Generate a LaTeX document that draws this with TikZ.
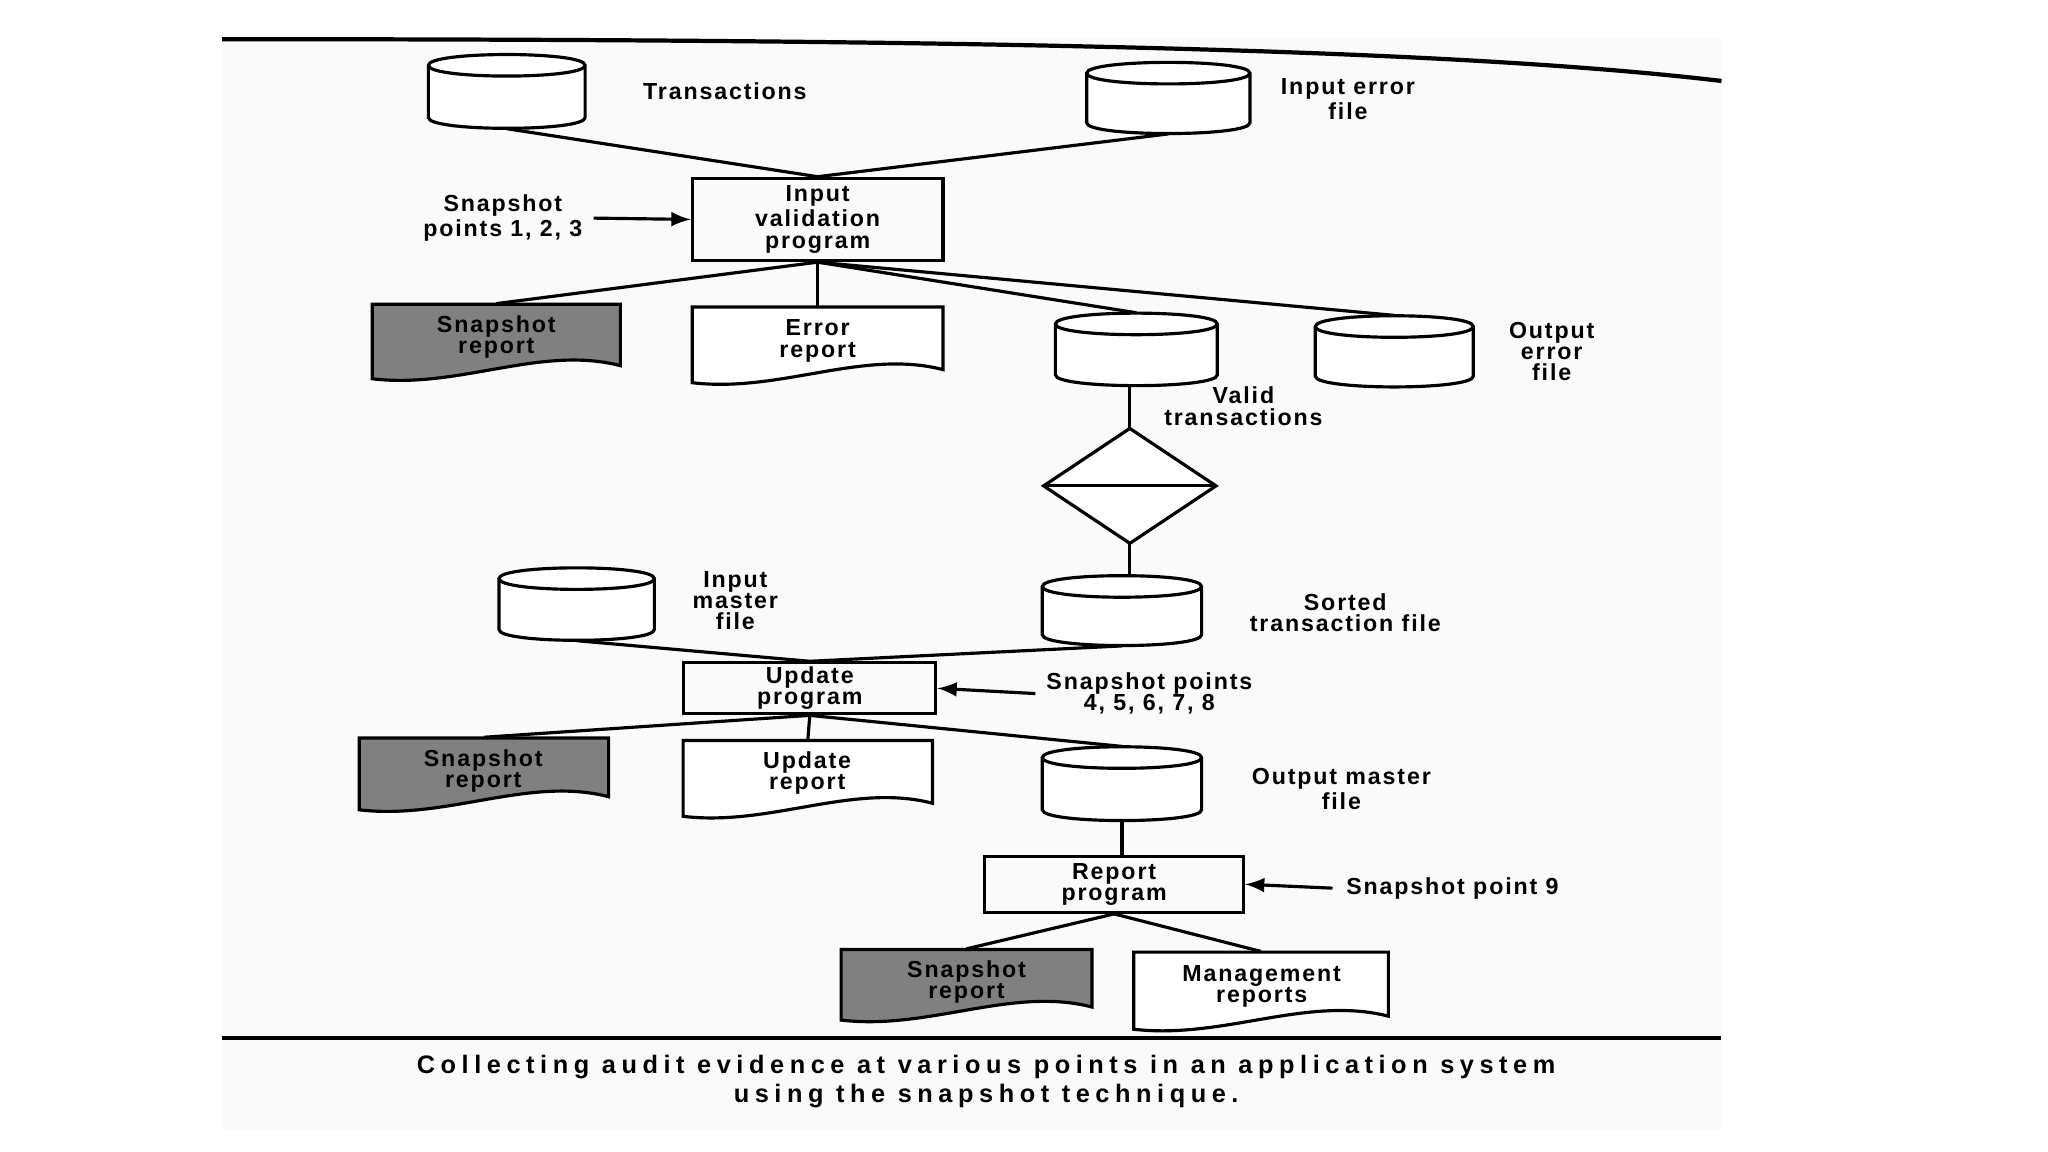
\documentclass[tikz,border=0pt]{standalone}
\usepackage{fontspec}
\setmainfont{Liberation Sans}[LetterSpace=8]
\newfontfamily\capfont{Liberation Sans}[LetterSpace=22]
\begin{document}
\begin{tikzpicture}[x=0.01306cm,y=-0.01306cm,
  lbl/.style={font=\bfseries\fontsize{6.6}{6}\selectfont,align=center,inner sep=0},
  ln/.style={line width=0.9pt},
  ph/.style={inner sep=0,draw=none}]
\useasboundingbox (0,0) rectangle (1568,882);
% page
\fill[black!2] (170,30) rectangle (1318,865);
\draw[line width=1.2pt] (170,30) .. controls (700,30) and (1100,36) .. (1318,62);
\draw[line width=1.2pt] (170,795) -- (1318,795);
% macros
\newcommand\mycyl[5]{% name x1 y1 x2 y2
  \pgfmathsetmacro\ct{#3+8}\pgfmathsetmacro\cb{#5-8}
  \pgfmathsetmacro\up{\ct-11}\pgfmathsetmacro\dn{\ct+11}\pgfmathsetmacro\bdn{\cb+11}
  \draw[ln,fill=white] (#2,\ct) .. controls (#2,\up) and (#4,\up) .. (#4,\ct) -- (#4,\cb) .. controls (#4,\bdn) and (#2,\bdn) .. (#2,\cb) -- cycle;
  \draw[ln] (#2,\ct) .. controls (#2,\dn) and (#4,\dn) .. (#4,\ct);
  \node[ph,minimum width={(#4-#2)*0.01306cm},minimum height={(#5-#3)*0.01306cm}] (#1) at ({(#2+#4)/2},{(#3+#5)/2}) {};}
\newcommand\mydoc[6]{% name x1 y1 x2 y2 fill
  \pgfmathsetmacro\ya{#5-10}\pgfmathsetmacro\yb{#5-26}\pgfmathsetmacro\yc{#5+8}
  \pgfmathsetmacro\xa{#2+0.68*(#4-#2)}\pgfmathsetmacro\xb{#2+0.35*(#4-#2)}
  \draw[ln,fill=#6] (#2,#3) -- (#4,#3) -- (#4,\ya) .. controls (\xa,\yb) and (\xb,\yc) .. (#2,#5) -- cycle;
  \node[ph,minimum width={(#4-#2)*0.01306cm},minimum height={(#5-#3)*0.01306cm}] (#1) at ({(#2+#4)/2},{(#3+#5)/2}) {};}
% cylinders
\mycyl{trans}{328}{42}{448}{98}
\mycyl{inerr}{832}{48}{957}{102}
\mycyl{valid}{808}{240}{932}{295}
\mycyl{outerr}{1007}{242}{1128}{296}
\mycyl{inmast}{382}{435}{501}{490}
\mycyl{sorted}{798}{441}{920}{494}
\mycyl{outmast}{798}{572}{920}{628}
% docs
\mydoc{snap1}{285}{233}{475}{290}{black!50}
\mydoc{err}{530}{235}{722}{293}{white}
\mydoc{snap2}{275}{565}{466}{620}{black!50}
\mydoc{upd}{523}{567}{714}{625}{white}
\mydoc{snap3}{644}{727}{836}{781}{black!50}
\mydoc{mgmt}{868}{729}{1063}{788}{white}
% boxes
\node[ln,draw,minimum width={192*0.01306cm},minimum height={63*0.01306cm},inner sep=0] (ivp) at (626,168) {};
\node[ln,draw,minimum width={193*0.01306cm},minimum height={39*0.01306cm},inner sep=0] (up) at (620,527) {};
\node[ln,draw,minimum width={198*0.01306cm},minimum height={43*0.01306cm},inner sep=0] (rp) at (853,677) {};
% diamond
\coordinate (dt) at (865,328); \coordinate (db) at (865,416);
\draw[ln,fill=white] (dt) -- (931,372) -- (db) -- (799,372) -- cycle;
\draw[ln] (799,372) -- (931,372);
% text
\node[lbl] at (626,168) {Input\\validation\\program};
\node[lbl] at (620,527) {Update\\program};
\node[lbl] at (853,677) {Report\\program};
\node[lbl] at (380,258) {Snapshot\\report};
\node[lbl] at (626,261) {Error\\report};
\node[lbl] at (370,590) {Snapshot\\report};
\node[lbl] at (618,592) {Update\\report};
\node[lbl] at (740,752) {Snapshot\\report};
\node[lbl] at (966,755) {Management\\reports};
\node[lbl] at (555,70) {Transactions};
\node[lbl] at (1032,76) {Input error\\file};
\node[lbl] at (1188,269) {Output\\error\\file};
\node[lbl] at (952,311) {Valid\\transactions};
\node[lbl] at (563,460) {Input\\master\\file};
\node[lbl] at (1030,469) {Sorted\\transaction file};
\node[lbl] at (1027,604) {Output master\\file};
\node[lbl] (sp1) at (385,167) {Snapshot\\points 1, 2, 3};
\node[lbl] (sp2) at (880,531) {Snapshot points\\4, 5, 6, 7, 8};
\node[lbl] (sp3) at (1112,680) {Snapshot point 9};
\node[font=\capfont\bfseries\fontsize{7.2}{8.5}\selectfont,align=center,inner sep=0] at (755,828) {Collecting audit evidence at various points in an application system\\using the snapshot technique.};
% connectors
\draw[ln] (trans.south) -- (ivp.north) -- (inerr.south);
\draw[ln] (ivp.south) -- (snap1.north);
\draw[ln] (ivp.south) -- (err.north);
\draw[ln] (ivp.south) -- (valid.north);
\draw[ln] (ivp.south) -- (outerr.north);
\draw[ln,-latex] (sp1.east) ++(8,0) -- (ivp.west);
\draw[ln] (valid.south -| dt) -- (dt);
\draw[ln] (db) -- (db |- sorted.north);
\draw[ln] (inmast.south) -- (up.north) -- (sorted.south);
\draw[ln,-latex] (sp2.west) ++(-8,0) -- (up.east);
\draw[ln] (up.south) -- (snap2.north);
\draw[ln] (up.south) -- (upd.north);
\draw[ln] (up.south) -- (outmast.north);
\draw[ln] (outmast.south) -- (outmast.south |- rp.north);
\draw[ln,-latex] (sp3.west) ++(-10,0) -- (rp.east);
\draw[ln] (rp.south) -- (snap3.north);
\draw[ln] (rp.south) -- (mgmt.north);
\end{tikzpicture}
\end{document}
